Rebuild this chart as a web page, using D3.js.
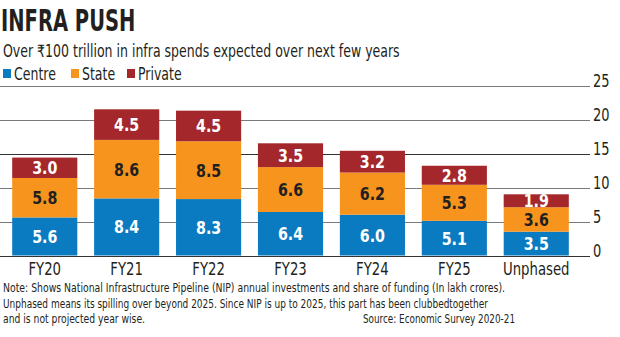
<!DOCTYPE html>
<html>
<head>
<meta charset="utf-8">
<script src="https://cdn.jsdelivr.net/npm/d3@7"></script>
<style>
  body { margin: 0; background: #fff; }
  svg text { font-family: "DejaVu Sans Condensed", "DejaVu Sans", sans-serif; }
</style>
</head>
<body>
<svg id="chart" width="620" height="337"></svg>
<script>
// Data (lakh crores)
const categories = ['FY20', 'FY21', 'FY22', 'FY23', 'FY24', 'FY25', 'Unphased'];
const centre  = [5.6, 8.4, 8.3, 6.4, 6.0, 5.1, 3.5];
const state   = [5.8, 8.6, 8.5, 6.6, 6.2, 5.3, 3.6];
const priv    = [3.0, 4.5, 4.5, 3.5, 3.2, 2.8, 1.9];
const seriesNames = ['Centre', 'State', 'Private'];
const yTicks = [0, 5, 10, 15, 20, 25];
const noteLines = [
    'Note: Shows National Infrastructure Pipeline (NIP) annual investments and share of funding (In lakh crores).',
    'Unphased means its spilling over beyond 2025. Since NIP is up to 2025, this part has been clubbedtogether',
    'and is not projected year wise.'
];
const source = 'Source: Economic Survey 2020-21';

const COLORS = { Centre: '#0b7bc1', State: '#f7941d', Private: '#a4282b' };
const LABEL_COLORS = { Centre: '#ffffff', State: '#231f20', Private: '#ffffff' };
const INK = '#231f20';

const rows = categories.map((c, i) => ({ cat: c, Centre: centre[i], State: state[i], Private: priv[i] }));

const svg = d3.select('#chart');

// squeeze text horizontally (the original face is a narrow one)
function narrow(sel, k, x, y) {
    sel.attr('transform', (d, i) => 'translate(' + (typeof x === 'function' ? x(d, i) : x) + ',' +
        (typeof y === 'function' ? y(d, i) : y) + ') scale(' + k + ',1)');
}

// Scales
const xScale = d3.scaleBand().domain(categories).range([4, 577]).paddingInner(0.205).paddingOuter(0.1);
const yScale = d3.scaleLinear().domain([0, 25]).range([255.5, 85.5]);

// Title block
svg.append('text').call(narrow, 0.7, 1, 31)
    .attr('font-size', 31).attr('font-weight', 'bold').attr('fill', INK)
    .text('INFRA PUSH');
svg.append('text').call(narrow, 0.82, 3, 57)
    .attr('font-size', 17).attr('fill', INK)
    .text('Over ₹100 trillion in infra spends expected over next few years');

// Legend
const legendX = [3, 71, 127];
const legend = svg.append('g').selectAll('g').data(seriesNames).enter().append('g')
    .attr('transform', (d, i) => 'translate(' + legendX[i] + ',0)');
legend.append('rect').attr('y', 69).attr('width', 8).attr('height', 9).attr('fill', (d) => COLORS[d]);
legend.append('text').call(narrow, 0.82, 11, 80)
    .attr('font-size', 17).attr('fill', INK).text((d) => d);

// Gridlines + y labels
const grid = svg.append('g');
grid.selectAll('line').data(yTicks).enter().append('line')
    .attr('x1', 0).attr('x2', 590)
    .attr('y1', (d) => Math.round(yScale(d)) + 0.5).attr('y2', (d) => Math.round(yScale(d)) + 0.5)
    .attr('stroke', (d) => d === 0 || d === 15 ? '#333' : '#7a7a7a').attr('stroke-width', 1);
grid.selectAll('text').data(yTicks).enter().append('text')
    .call(narrow, 0.85, 593, (d) => yScale(d) + 1)
    .attr('font-size', 17).attr('fill', INK)
    .text((d) => d);

// Stacked bars
const stack = d3.stack().keys(seriesNames)(rows);
const layers = svg.append('g').selectAll('g').data(stack).enter().append('g')
    .attr('fill', (s) => COLORS[s.key]);
layers.selectAll('rect').data((s) => s).enter().append('rect')
    .attr('x', (d) => xScale(d.data.cat))
    .attr('width', xScale.bandwidth())
    .attr('y', (d) => yScale(d[1]))
    .attr('height', (d) => yScale(d[0]) - yScale(d[1]));

// Value labels
const labels = svg.append('g');
stack.forEach((s) => {
    labels.selectAll('text.' + s.key).data(s).enter().append('text')
        .attr('class', s.key)
        .call(narrow, 0.88,
            (d) => xScale(d.data.cat) + xScale.bandwidth() / 2,
            (d) => (yScale(d[0]) + yScale(d[1])) / 2 + 6.5)
        .attr('text-anchor', 'middle')
        .attr('font-size', 18).attr('font-weight', 'bold')
        .attr('fill', LABEL_COLORS[s.key])
        .text((d) => d.data[s.key].toFixed(1));
});

// X axis labels
const xAxis = d3.axisBottom(xScale).tickSize(0).tickPadding(0);
const xg = svg.append('g').attr('transform', 'translate(0,262)').call(xAxis);
xg.select('.domain').remove();
xg.selectAll('text').attr('font-size', 18).attr('fill', INK)
    .attr('font-family', '"DejaVu Sans Condensed", "DejaVu Sans", sans-serif')
    .attr('transform', 'scale(0.82,1)');

// Notes
const noteEnds = [505, 488, 145];
svg.append('g').selectAll('text').data(noteLines).enter().append('text')
    .attr('x', 3).attr('y', (d, i) => 292 + i * 15.5)
    .attr('textLength', (d, i) => noteEnds[i] - 3).attr('lengthAdjust', 'spacingAndGlyphs')
    .attr('font-size', 13).attr('fill', INK)
    .text((d) => d);
svg.append('text').attr('x', 363).attr('y', 323)
    .attr('textLength', 152).attr('lengthAdjust', 'spacingAndGlyphs')
    .attr('font-size', 13).attr('fill', INK).text(source);
</script>
</body>
</html>
